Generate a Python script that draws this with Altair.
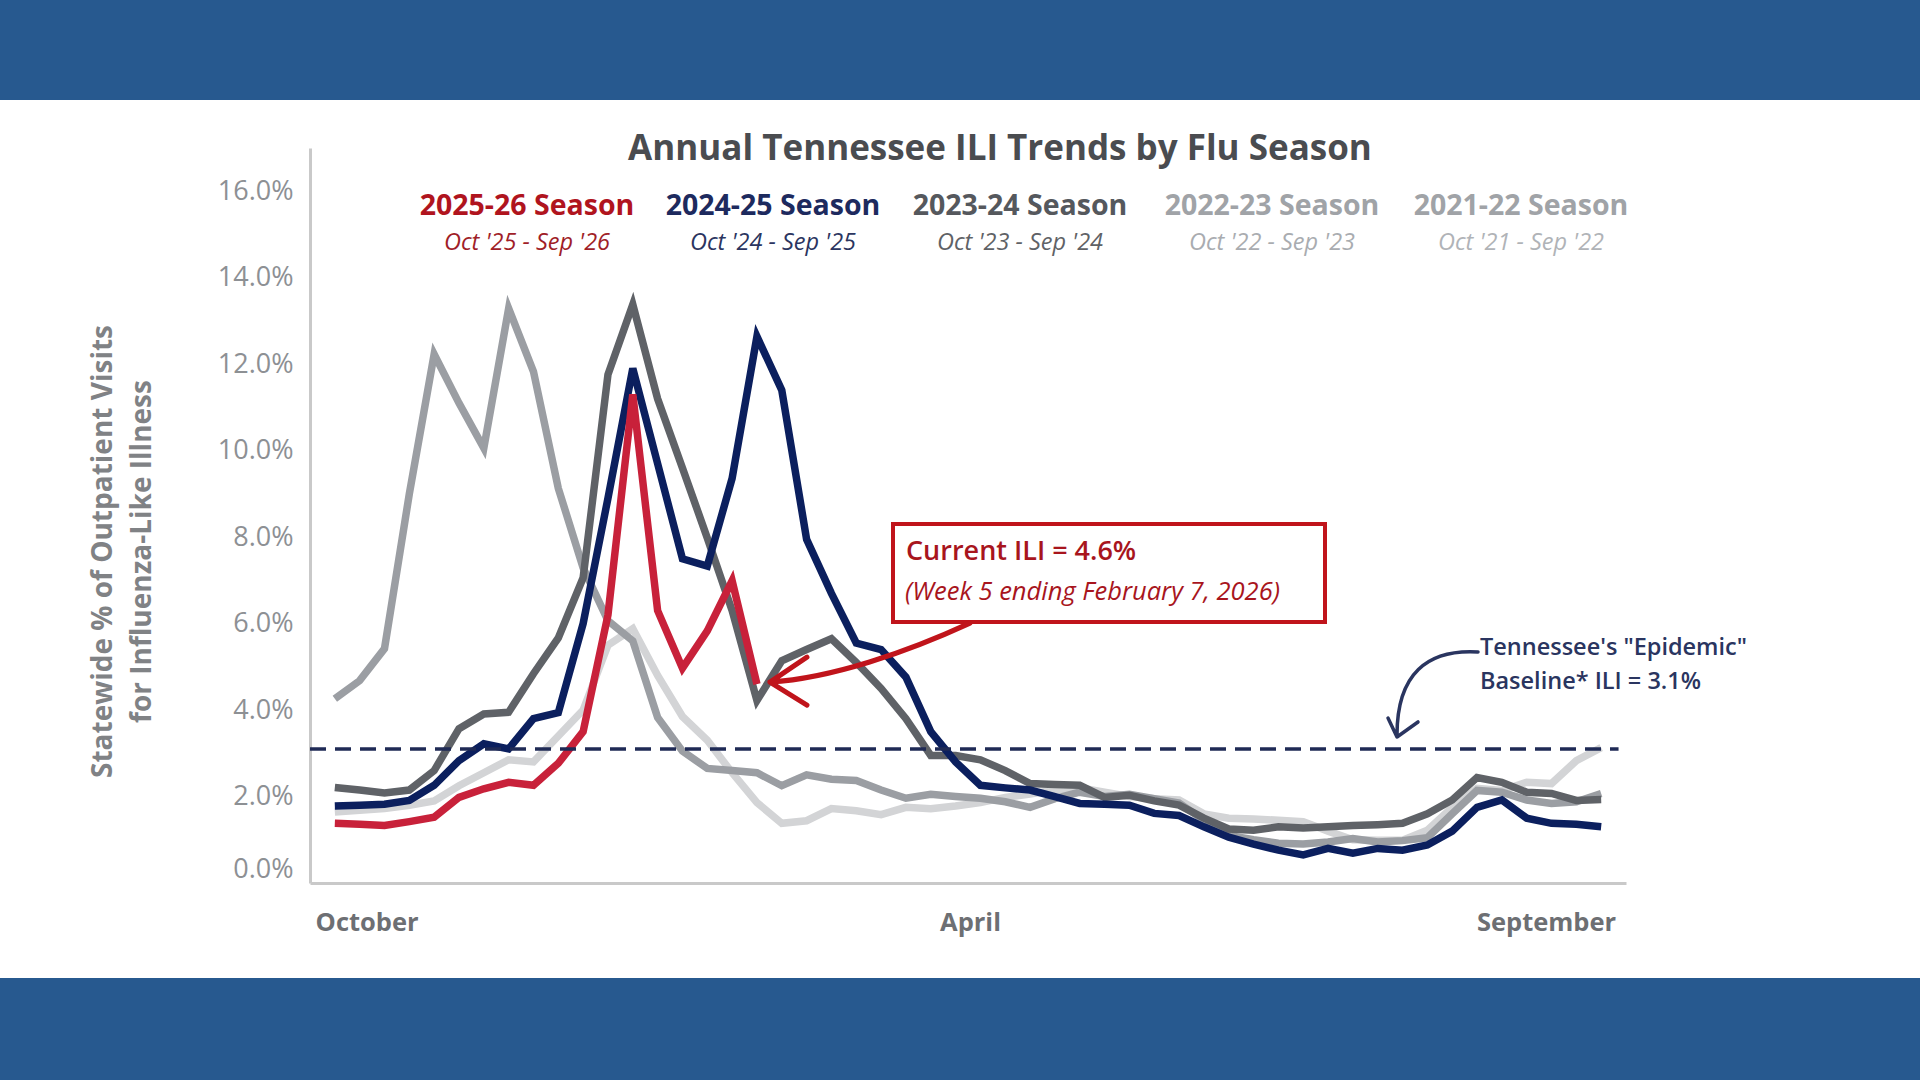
import altair as alt
import pandas as pd

# ---- data -----------------------------------------------------------------
seasons = ["2025-26 Season", "2024-25 Season", "2023-24 Season",
           "2022-23 Season", "2021-22 Season"]
season_ranges = ["Oct '25 - Sep '26", "Oct '24 - Sep '25", "Oct '23 - Sep '24",
                 "Oct '22 - Sep '23", "Oct '21 - Sep '22"]

# weekly statewide ILI %, week 0 = first week of October
ili_2025_26 = [1.38, 1.36, 1.33, 1.42, 1.52, 1.98, 2.18, 2.33, 2.26, 2.77,
               3.50, 6.20, 11.30, 6.30, 4.97, 5.83, 6.99, 4.60]
ili_2024_25 = [1.78, 1.80, 1.82, 1.91, 2.26, 2.83, 3.22, 3.10, 3.80, 3.94,
               6.00, 8.90, 11.90, 9.70, 7.50, 7.33, 9.36, 12.64, 11.40, 7.95,
               6.70, 5.55, 5.40, 4.76, 3.50, 2.80, 2.26, 2.20, 2.15, 2.00,
               1.84, 1.82, 1.80, 1.61, 1.56, 1.30, 1.06, 0.90, 0.76, 0.65,
               0.80, 0.69, 0.80, 0.76, 0.88, 1.20, 1.75, 1.92, 1.50, 1.38,
               1.36, 1.30]
ili_2023_24 = [2.21, 2.15, 2.08, 2.15, 2.60, 3.57, 3.91, 3.95, 4.84, 5.67,
               7.06, 11.76, 13.38, 11.20, 9.60, 7.98, 6.30, 4.22, 5.14, 5.40,
               5.65, 5.10, 4.50, 3.80, 2.95, 2.95, 2.85, 2.60, 2.30, 2.28,
               2.26, 1.98, 2.03, 1.90, 1.80, 1.50, 1.25, 1.22, 1.30, 1.27,
               1.30, 1.33, 1.35, 1.38, 1.60, 1.92, 2.44, 2.33, 2.10, 2.07,
               1.91, 1.93]
ili_2022_23 = [4.26, 4.68, 5.42, 9.00, 12.23, 11.10, 10.06, 13.29, 11.83, 9.13,
               7.29, 6.07, 5.60, 3.83, 3.05, 2.65, 2.60, 2.55, 2.25, 2.50,
               2.40, 2.37, 2.15, 1.96, 2.05, 2.00, 1.96, 1.88, 1.75, 1.95,
               2.10, 2.00, 2.05, 1.95, 1.85, 1.45, 1.10, 1.00, 0.92, 0.90,
               0.95, 1.03, 0.95, 0.98, 1.05, 1.60, 2.14, 2.10, 1.92, 1.84,
               1.88, 2.07]
ili_2021_22 = [1.64, 1.68, 1.72, 1.80, 1.90, 2.25, 2.55, 2.85, 2.80, 3.40,
               4.00, 5.50, 5.88, 4.80, 3.85, 3.30, 2.55, 1.86, 1.38, 1.44,
               1.72, 1.67, 1.58, 1.75, 1.72, 1.78, 1.86, 1.98, 2.06, 2.15,
               2.20, 2.10, 2.00, 1.95, 1.92, 1.60, 1.50, 1.48, 1.45, 1.42,
               1.20, 1.00, 0.99, 0.99, 1.22, 1.75, 2.19, 2.14, 2.33, 2.30,
               2.83, 3.13]
series = [ili_2025_26, ili_2024_25, ili_2023_24, ili_2022_23, ili_2021_22]

y_ticks = [0, 2, 4, 6, 8, 10, 12, 14, 16]
month_labels = ["October", "April", "September"]
month_weeks = [1.3, 25.6, 48.8]

baseline_ili = 3.1
baseline_end_week = 51.7

# ---- styling ----------------------------------------------------------------
FONT = "Open Sans"
BAND = "#27598f"
AXIS_GRAY = "#c9c9c9"
NAVY_TXT = "#2a3560"
RED_BOX = "#c0141b"
line_colors = ["#c8213a", "#0b1f5e", "#5f6267", "#9b9ea3", "#d3d4d6"]
header_colors = ["#b0141e", "#1d2a5e", "#55585d", "#a0a3a7", "#a0a3a7"]
range_colors = ["#a01e28", "#2b3560", "#5f6266", "#a9acb0", "#b0b3b7"]
draw_order = [4, 3, 2, 1, 0]

PLOT_LEFT, PLOT_TOP, PLOT_W, PLOT_H = 310, 148, 1316, 735
header_px = [217, 463, 710, 962, 1211]

rows = []
for name, vals in zip(seasons, series):
    for wk, v in enumerate(vals):
        rows.append({"season": name, "week": wk, "ili": v})
df = pd.DataFrame(rows)

x_enc = alt.X("week:Q",
              scale=alt.Scale(domain=[-1, 52], nice=False, zero=False),
              axis=alt.Axis(title=None, labels=False, ticks=False, grid=False,
                            domainColor=AXIS_GRAY, domainWidth=3))
y_enc = alt.Y("ili:Q",
              scale=alt.Scale(domain=[0, 17], nice=False, zero=True),
              axis=alt.Axis(values=y_ticks,
                            labelExpr="format(datum.value, '.1f') + '%'",
                            labelFont=FONT, labelFontSize=27, labelColor="#8d9094",
                            labelPadding=17,
                            labelBaseline={"condition": {"test": "datum.value === 0",
                                                         "value": "bottom"},
                                           "value": "middle"},
                            ticks=False, grid=False,
                            domainColor=AXIS_GRAY, domainWidth=3,
                            title=["Statewide % of Outpatient Visits",
                                   "for Influenza-Like Illness"],
                            titleFont=FONT, titleFontSize=28, titleFontWeight="bold",
                            titleColor="#808285", titleAngle=270,
                            titleX=-207, titleY=403, titleAlign="center",
                            titleBaseline="middle", titleLineHeight=39))

one = pd.DataFrame({"k": [0]})

# colour bands above and below the chart
bands = alt.Chart(one).mark_rect(color=BAND).encode(
    x=alt.value(-PLOT_LEFT), x2=alt.value(1920 - PLOT_LEFT),
    y=alt.value(-PLOT_TOP), y2=alt.value(100 - PLOT_TOP))
bands_bottom = alt.Chart(one).mark_rect(color=BAND).encode(
    x=alt.value(-PLOT_LEFT), x2=alt.value(1920 - PLOT_LEFT),
    y=alt.value(978 - PLOT_TOP), y2=alt.value(1080 - PLOT_TOP))

layers = [bands, bands_bottom]

for idx in draw_order:
    layers.append(
        alt.Chart(df).transform_filter(alt.datum.season == seasons[idx])
        .mark_line(color=line_colors[idx], strokeWidth=7.5, strokeJoin="miter")
        .encode(x=x_enc, y=y_enc)
    )

# epidemic baseline
base_df = pd.DataFrame({"week": [-1], "week_end": [baseline_end_week], "ili": [baseline_ili]})
layers.append(
    alt.Chart(base_df).mark_rule(color="#1f2a55", strokeWidth=3.5, strokeDash=[16, 9])
    .encode(x=x_enc, x2="week_end:Q", y=y_enc)
)

# chart title
layers.append(
    alt.Chart(pd.DataFrame({"t": ["Annual Tennessee ILI Trends by Flu Season"]}))
    .mark_text(font=FONT, fontSize=35, fontWeight="bold", color="#4a4c50",
               align="center", baseline="middle")
    .encode(text="t:N", x=alt.value(690), y=alt.value(1))
)

# season headers
for i in range(len(seasons)):
    layers.append(
        alt.Chart(pd.DataFrame({"t": [seasons[i]]}))
        .mark_text(font=FONT, fontSize=28.5, fontWeight="bold", color=header_colors[i],
                   align="center", baseline="middle")
        .encode(text="t:N", x=alt.value(header_px[i]), y=alt.value(58))
    )
    layers.append(
        alt.Chart(pd.DataFrame({"t": [season_ranges[i]]}))
        .mark_text(font=FONT, fontSize=23.5, fontStyle="italic", color=range_colors[i],
                   align="center", baseline="middle")
        .encode(text="t:N", x=alt.value(header_px[i]), y=alt.value(95))
    )

# month labels along the bottom
layers.append(
    alt.Chart(pd.DataFrame({"week": month_weeks, "m": month_labels}))
    .mark_text(font=FONT, fontSize=25.5, fontWeight="bold", color="#6d6f73",
               align="center", baseline="middle")
    .encode(x=x_enc, y=alt.value(775), text="m:N")
)

# current-value callout box
current_week = len(ili_2025_26) - 1
current_val = ili_2025_26[-1]
layers.append(
    alt.Chart(one).mark_rect(fill="white", stroke=RED_BOX, strokeWidth=4)
    .encode(x=alt.value(583), x2=alt.value(1015), y=alt.value(376), y2=alt.value(474))
)
layers.append(
    alt.Chart(pd.DataFrame({"t": [f"Current ILI = {current_val:.1f}%"]}))
    .mark_text(font=FONT, fontSize=27, fontWeight=600, color="#a8151d",
               align="left", baseline="middle")
    .encode(text="t:N", x=alt.value(596), y=alt.value(404))
)
layers.append(
    alt.Chart(pd.DataFrame({"t": ["(Week 5 ending February 7, 2026)"]}))
    .mark_text(font=FONT, fontSize=25.5, fontStyle="italic", color="#a8151d",
               align="left", baseline="middle")
    .encode(text="t:N", x=alt.value(595), y=alt.value(444))
)

# curved arrow pointing at the latest week
red_arrow = "M 213 -61 C 150 -32 75 -6 13 -2 M 50 -27 L 13 -2 L 50 21"
layers.append(
    alt.Chart(pd.DataFrame({"week": [current_week], "ili": [current_val]}))
    .mark_point(shape=red_arrow, size=4, filled=False, opacity=1,
                color=RED_BOX, strokeWidth=5, strokeCap="round", strokeJoin="round")
    .encode(x=x_enc, y=y_enc)
)

# baseline annotation
layers.append(
    alt.Chart(pd.DataFrame({"t": [["Tennessee's \"Epidemic\"",
                                   f"Baseline* ILI = {baseline_ili:.1f}%"]]}))
    .mark_text(font=FONT, fontSize=23.5, fontWeight=600, color=NAVY_TXT,
               align="left", baseline="middle", lineHeight=34)
    .encode(text="t", x=alt.value(1170), y=alt.value(500))
)
navy_arrow = "M 81 -97 C 30 -100 0 -75 0 -14 M -9 -31 L 0 -12 L 21 -27"
layers.append(
    alt.Chart(pd.DataFrame({"ili": [baseline_ili]}))
    .mark_point(shape=navy_arrow, size=4, filled=False, opacity=1,
                color=NAVY_TXT, strokeWidth=3.5, strokeCap="round", strokeJoin="round")
    .encode(x=alt.value(1087), y=y_enc)
)

chart = alt.layer(*layers).properties(
    width=PLOT_W, height=PLOT_H,
    autosize=alt.AutoSizeParams(type="none"),
    padding={"left": PLOT_LEFT, "top": PLOT_TOP,
             "right": 1920 - PLOT_LEFT - PLOT_W, "bottom": 1080 - PLOT_TOP - PLOT_H},
    background="white",
).configure_view(stroke=None)

chart.save("out.html", embed_options={"renderer": "svg", "actions": False})
